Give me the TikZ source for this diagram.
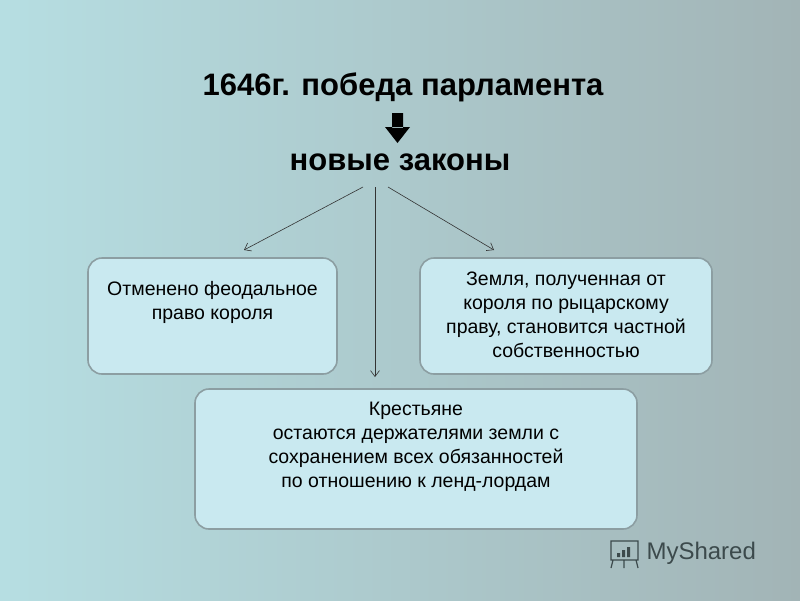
\documentclass[tikz,border=0pt]{standalone}
\usepackage{fontspec}
\setmainfont{Liberation Sans}
\usetikzlibrary{arrows.meta}
\definecolor{bgl}{HTML}{B6DEE2}
\definecolor{bgr}{HTML}{A2B4B6}
\definecolor{boxf}{HTML}{C9E9F0}
\definecolor{boxd}{HTML}{8C9EA2}
\definecolor{wm}{HTML}{3C4A4C}
\begin{document}
\begin{tikzpicture}[x=1pt,y=-1pt,
  box/.style={draw=boxd,line width=1.6pt,fill=boxf,rounded corners=14pt},
  txt/.style={align=center,font=\fontsize{19.5}{24}\selectfont},
  conn/.style={draw=black!80,line width=0.6pt,-{Straight Barb[length=6pt,width=9pt]}}]
\shade[left color=bgl,right color=bgr] (0,0) rectangle (800,600);
\useasboundingbox (0,0) rectangle (800,600);
\node[font=\bfseries\fontsize{31}{34}\selectfont] (t) at (403,87) {1646г. победа парламента};
\node[font=\bfseries\fontsize{31}{34}\selectfont] (n) at (400,162) {новые законы};
\fill[black] (392,113) rectangle (403,128) (385,127) -- (410,127) -- (397.5,143) -- cycle;
\node[box,minimum width=249pt,minimum height=116pt] (a) at (212.5,316) {};
\node[txt] at (212.5,302) {Отменено феодальное\\право короля};
\node[box,minimum width=292pt,minimum height=116pt] (b) at (566,316) {};
\node[txt] at (566,315) {Земля, полученная от\\короля по рыцарскому\\праву, становится частной\\собственностью};
\node[box,minimum width=442pt,minimum height=140pt] (c) at (416,459) {};
\node[txt] at (416,447) {Крестьяне\\остаются держателями земли с\\сохранением всех обязанностей\\по отношению к ленд-лордам};
\coordinate (s1) at (363,187); \coordinate (s2) at (375,187); \coordinate (s3) at (388,187);
\coordinate (e1) at (244,250); \coordinate (e2) at (375,377); \coordinate (e3) at (494,250);
\draw[conn] (s1) -- (e1);
\draw[conn] (s2) -- (e2);
\draw[conn] (s3) -- (e3);
\node[text=wm,font=\fontsize{24}{26}\selectfont,anchor=west] (w) at (643,553) {MyShared};
\draw[wm,line width=1.2pt] (611,541) rectangle (638,560) (613,560)--(611,568) (624,560)--(624,568) (636,560)--(638,568);
\fill[wm] (617,553) rectangle (620,557) (622,550) rectangle (625,557) (627,547) rectangle (630,557);
\end{tikzpicture}
\end{document}
